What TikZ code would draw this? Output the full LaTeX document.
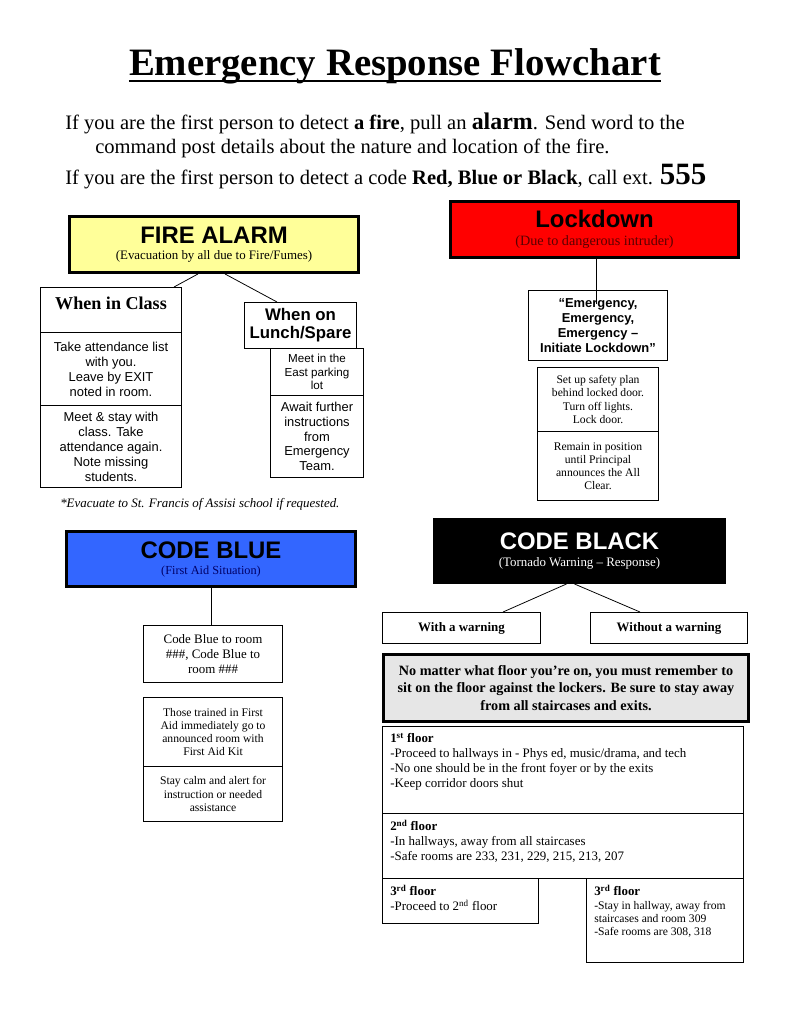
\documentclass[tikz,border=0pt]{standalone}
\usepackage{fontspec}
\setmainfont{Liberation Serif}
\setsansfont{Liberation Sans}
\usepackage{tikz}

\newdimen\pxu
\pxu=0.7737pt

\definecolor{alarmyellow}{HTML}{FFFF99}
\definecolor{lockred}{HTML}{FF0000}
\definecolor{lockdark}{HTML}{5A0000}
\definecolor{codeblue}{HTML}{3366FF}
\definecolor{bluedark}{HTML}{000066}
\definecolor{notegray}{HTML}{E6E6E6}

\begin{document}
\begin{tikzpicture}[x=\pxu, y=-\pxu,
    head/.style={draw, line width=2.3pt, anchor=north west, align=center, inner sep=0pt},
    cell/.style={draw, line width=0.8pt, anchor=north west, align=center, inner sep=2pt},
    floor/.style={draw, line width=0.8pt, anchor=north west, align=left, inner xsep=6pt, inner ysep=5pt,
        font=\rmfamily\fontsize{10}{11.6}\selectfont},
    intro/.style={anchor=base west, inner sep=0pt, font=\fontsize{15.9}{18}\selectfont},
    link/.style={line width=0.6pt}]
    \useasboundingbox (0,0) rectangle (791,1023);

    % title and intro
    \node[anchor=base, inner sep=0pt] (title) at (395,76) {\fontsize{30}{34}\selectfont\bfseries Emergency Response Flowchart};
    \draw[line width=2.2pt] ([yshift=-5\pxu]title.base west) -- ([yshift=-5\pxu]title.base east);
    \node[intro] (intro1) at (65,130)
        {If you are the first person to detect \textbf{a fire}, pull an {\fontsize{18.5}{18}\selectfont\bfseries alarm}. Send word to the};
    \node[intro] (intro2) at (95,154)
        {command post details about the nature and location of the fire.};
    \node[intro] (intro3) at (65,185)
        {If you are the first person to detect a code \textbf{Red, Blue or Black}, call ext. {\fontsize{24}{24}\selectfont\bfseries 555}};

    % fire alarm
    \node[head, fill=alarmyellow, minimum width=289\pxu, minimum height=56\pxu, font=\fontsize{10}{12.6}\selectfont] (fire) at (68,215)
        {{\sffamily\bfseries\fontsize{18.5}{20}\selectfont FIRE ALARM}\\(Evacuation by all due to Fire/Fumes)};
    \node[cell, minimum width=141\pxu, minimum height=45\pxu, font=\bfseries\fontsize{14}{16}\selectfont] (class) at (40,287) {When in Class\\[-6pt]};
    \node[cell, minimum width=141\pxu, minimum height=73\pxu, font=\sffamily\fontsize{10}{11.6}\selectfont] (take) at (40,332)
        {Take attendance list\\with you.\\Leave by EXIT\\noted in room.};
    \node[cell, minimum width=141\pxu, minimum height=82\pxu, font=\sffamily\fontsize{10}{11.6}\selectfont] (meet) at (40,405)
        {Meet \& stay with\\class. Take\\attendance again.\\Note missing\\students.};
    \node[cell, minimum width=112\pxu, minimum height=46\pxu, font=\sffamily\bfseries\fontsize{13}{14}\selectfont] (lunch) at (244,302)
        {When on\\Lunch/Spare};
    \node[cell, minimum width=93\pxu, minimum height=47\pxu, font=\sffamily\fontsize{9}{10.3}\selectfont] (park) at (270,348)
        {Meet in the\\East parking\\lot};
    \node[cell, minimum width=93\pxu, minimum height=82\pxu, font=\sffamily\fontsize{10}{11.4}\selectfont] (await) at (270,395)
        {Await further\\instructions\\from\\Emergency\\Team.};
    \node[anchor=west, inner sep=0pt, font=\itshape\fontsize{10}{11}\selectfont] (note) at (60,504)
        {*Evacuate to St. Francis of Assisi school if requested.};
    \draw[link] ([xshift=-16\pxu]fire.south) -- ([xshift=-8\pxu]class.north east);
    \draw[link] ([xshift=11\pxu]fire.south) -- ([xshift=33\pxu]lunch.north west);

    % lockdown
    \node[head, fill=lockred, minimum width=288\pxu, minimum height=56\pxu, font=\fontsize{11}{13.6}\selectfont] (lock) at (449,200)
        {{\sffamily\bfseries\fontsize{18.5}{20}\selectfont Lockdown}\\\textcolor{lockdark}{(Due to dangerous intruder)}};
    \node[cell, minimum width=139\pxu, minimum height=70\pxu, font=\sffamily\bfseries\fontsize{10}{11.6}\selectfont] (emerg) at (528,290)
        {“Emergency,\\Emergency,\\Emergency –\\Initiate Lockdown”};
    \node[cell, minimum width=121\pxu, minimum height=64\pxu, font=\fontsize{9}{10.2}\selectfont] (plan) at (537,367)
        {Set up safety plan\\behind locked door.\\Turn off lights.\\Lock door.};
    \node[cell, minimum width=121\pxu, minimum height=69\pxu, font=\fontsize{9}{10.2}\selectfont] (remain) at (537,431)
        {Remain in position\\until Principal\\announces the All\\Clear.};
    \coordinate (lockend) at ([yshift=-14\pxu]emerg.north);
    \draw[link] ([xshift=2\pxu]lock.south) -- ([xshift=2\pxu]lock.south |- lockend);

    % code blue
    \node[head, fill=codeblue, minimum width=289\pxu, minimum height=55\pxu, font=\fontsize{9.5}{12.4}\selectfont] (blue) at (65,530)
        {{\sffamily\bfseries\fontsize{18.5}{20}\selectfont CODE BLUE}\\\textcolor{bluedark}{(First Aid Situation)}};
    \node[cell, minimum width=139\pxu, minimum height=57\pxu, font=\fontsize{10}{11.6}\selectfont] (room) at (143,625)
        {Code Blue to room\\\#\#\#, Code Blue to\\room \#\#\#};
    \node[cell, minimum width=139\pxu, minimum height=69\pxu, font=\fontsize{9}{10.2}\selectfont] (trained) at (143,697)
        {Those trained in First\\Aid immediately go to\\announced room with\\First Aid Kit};
    \node[cell, minimum width=139\pxu, minimum height=55\pxu, font=\fontsize{9}{10.2}\selectfont] (calm) at (143,766)
        {Stay calm and alert for\\instruction or needed\\assistance};
    \draw[link] (blue.south) -- (blue.south |- room.north);

    % code black
    \node[head, draw=black, fill=black, text=white, minimum width=290\pxu, minimum height=63\pxu, font=\fontsize{10}{13}\selectfont] (black) at (433,518)
        {{\sffamily\bfseries\fontsize{18.5}{20}\selectfont CODE BLACK}\\(Tornado Warning – Response)};
    \node[cell, minimum width=158\pxu, minimum height=31\pxu, font=\bfseries\fontsize{10}{12}\selectfont] (with) at (382,612) {With a warning};
    \node[cell, minimum width=157\pxu, minimum height=31\pxu, font=\bfseries\fontsize{10}{12}\selectfont] (without) at (590,612) {Without a warning};
    \node[head, fill=notegray, minimum width=365\pxu, minimum height=67\pxu, font=\bfseries\fontsize{11}{13.5}\selectfont] (nomatter) at (382,653)
        {No matter what floor you're on, you must remember to\\sit on the floor against the lockers. Be sure to stay away\\from all staircases and exits.};
    \draw[link] ([xshift=-13\pxu]black.south) -- ([xshift=-38\pxu]with.north east);
    \draw[link] ([xshift=-5\pxu]black.south) -- ([xshift=50\pxu]without.north west);

    % floors
    \node[floor] (first) at (382,726) {\parbox[t][74\pxu][t]{345\pxu}{\textbf{1\textsuperscript{st} floor}\\
        -Proceed to hallways in - Phys ed, music/drama, and tech\\
        -No one should be in the front foyer or by the exits\\
        -Keep corridor doors shut}};
    \node[floor] (second) at (382,813) {\parbox[t][52\pxu][t]{345\pxu}{\textbf{2\textsuperscript{nd} floor}\\
        -In hallways, away from all staircases\\
        -Safe rooms are 233, 231, 229, 215, 213, 207}};
    \node[floor] (thirda) at (382,878) {\parbox[t][32\pxu][t]{140\pxu}{\textbf{3\textsuperscript{rd} floor}\\
        -Proceed to 2\textsuperscript{nd} floor}};
    \node[floor, font=\rmfamily\fontsize{9}{10.2}\selectfont] (thirdb) at (586,878) {\parbox[t][71\pxu][t]{141\pxu}{{\fontsize{10}{11.6}\selectfont\textbf{3\textsuperscript{rd} floor}}\\
        -Stay in hallway, away from\\
        staircases and room 309\\
        -Safe rooms are 308, 318}};
\end{tikzpicture}
\end{document}
